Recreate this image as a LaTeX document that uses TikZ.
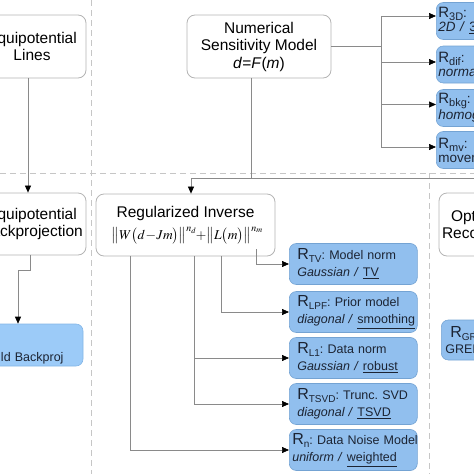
\documentclass[tikz,border=0pt]{standalone}
\usepackage{mathptmx}
\usepackage{fontspec}
\setmainfont{Liberation Sans}
\usetikzlibrary{arrows.meta}
\definecolor{lineg}{HTML}{8A8A8A}
\definecolor{boxg}{HTML}{B4B4B4}
\definecolor{dashg}{HTML}{C6C6C6}
\definecolor{rfill}{HTML}{91BFEE}
\definecolor{rdraw}{HTML}{74A3D3}
\definecolor{lfill}{HTML}{9CCBF8}
\definecolor{ldraw}{HTML}{84B6E6}
\definecolor{rtext}{HTML}{1C2433}
\frenchspacing
\newcommand\Rsub[1]{{\fontsize{16}{16}\selectfont R}\raisebox{-3pt}{\fontsize{10}{10}\selectfont #1}}
\newcommand\Rsm[1]{{\fontsize{15}{15}\selectfont R}\raisebox{-3pt}{\fontsize{11}{11}\selectfont #1}}
\newcommand\Rln[2]{\mbox{#1}\\\mbox{#2}}
\begin{document}
\begin{tikzpicture}[x=1pt,y=-1pt,
  pbox/.style={draw=boxg, line width=0.8pt, rounded corners=8pt, fill=white,
    align=center, font=\fontsize{15.5}{17.5}\selectfont, inner sep=0},
  rbox/.style={draw=rdraw, fill=rfill, rounded corners=7pt, line width=0.6pt,
    minimum width=128, minimum height=41, inner ysep=0, inner xsep=8pt,
    text width=112pt, align=left, font=\fontsize{12.5}{17}\selectfont, text=rtext},
  sbox/.style={rbox, minimum height=37, inner xsep=2pt, text width=124pt,
    font=\fontsize{13.5}{14}\selectfont},
  conn/.style={draw=lineg, line width=0.7pt},
  arr/.style={conn, -{Triangle[length=7pt,width=6pt,color=black]}},
  divider/.style={draw=dashg, line width=1pt, dash pattern=on 6pt off 4pt}]
\useasboundingbox (0,0) rectangle (474,474);
\clip (0,0) rectangle (474,474);
% dividers
\draw[divider] (91,0) -- (91,474);
\draw[divider] (0,173) -- (474,173);
\draw[divider] (429,173) -- (429,474);
% plain boxes
\node[pbox, minimum width=108, minimum height=63] (eqlines) at (32,46.5) {Equipotential\\Lines};
\node[pbox, minimum width=144, minimum height=63] (numsens) at (259,46.5)
  {Numerical\\Sensitivity Model\\\textit{d}=\textit{F}(\textit{m})};
\node[pbox, minimum width=108, minimum height=62] (eqback) at (32,224) {Equipotential\\Backprojection};
\node[pbox, minimum width=179, minimum height=62] (reginv) at (185.5,225)
  {Regularized Inverse\\[4pt]\hspace*{4pt}{\fontsize{13.5}{13.5}\selectfont
   $\bigl\|W\bigl(d\!-\!Jm\bigr)\bigr\|^{n_d}\!\!+\!\bigl\|L\bigl(m\bigr)\bigr\|^{n_m}$}};
\node[pbox, minimum width=128, minimum height=63, text width=122pt, align=left,
  inner xsep=3pt] (opt) at (503,224.5) {\hspace*{9pt}Optimal\\Reconstruction};
% left blue box
\node[rbox, fill=lfill, draw=ldraw, minimum height=42, text width=36pt, inner xsep=0pt,
  text height=35pt, text depth=2pt] (lbp) at (19,345) {\mbox{ld Backproj}};
% top right boxes
\node[sbox, anchor=west] (r3d) at (436,21) {\Rln{\Rsm{3D}:}{\textit{2D /} \underline{3D}}};
\node[sbox, anchor=west] (rdif) at (436,64.5) {\Rln{\Rsm{dif}:}{\textit{normal}}};
\node[sbox, anchor=west] (rbkg) at (436,108) {\Rln{\Rsm{bkg}:}{\textit{homogeneous}}};
\node[sbox, anchor=west] (rmv) at (436,150) {\Rln{\Rsm{mv}:}{movement}};
% R boxes middle
\node[rbox, anchor=west] (rtv) at (289,264) {\Rln{\Rsub{TV}: Model norm}{\textit{Gaussian /} \underline{TV}}};
\node[rbox, anchor=west] (rlpf) at (289,312) {\Rln{\Rsub{LPF}: Prior model}{\textit{diagonal /} \underline{smoothing}}};
\node[rbox, anchor=west] (rl1) at (289,358) {\Rln{\Rsub{L1}: Data norm}{\textit{Gaussian /} \underline{robust}}};
\node[rbox, anchor=west] (rtsvd) at (289,404) {\Rln{\Rsub{TSVD}: Trunc. SVD}{\textit{diagonal /} \underline{TSVD}}};
\node[rbox, anchor=west] (rn) at (289,450)
  {\hspace*{-5pt}\mbox{\Rsub{n}: Data Noise Model}\\\hspace*{-5pt}\mbox{\textit{uniform /} \underline{weighted}}};
% right GREIT box
\node[rbox, anchor=west, minimum height=40, inner xsep=4pt, text width=120pt,
  font=\fontsize{12.5}{16}\selectfont] (rgr) at (441,340) {\hspace*{5pt}\mbox{\Rsub{GREIT}:}\\GREIT};
% connectors left
\draw[arr] ([xshift=-4]eqlines.south) -- ([xshift=-4]eqback.north);
\draw[arr] ([xshift=-2]eqback.south) -- ++(0,15) -| ([xshift=-1]lbp.north);
% bus
\coordinate (busL) at (191,178);
\coordinate (busR) at (474,178);
\draw[conn] (busL) -- (busR);
\draw[conn] ([xshift=-8]numsens.south) -- ([xshift=-8]numsens.south |- busL);
\draw[arr] (busL) -- (busL |- reginv.north);
% right fan
\coordinate (jn) at (381,46.5);
\coordinate (jtop) at (381,16);
\coordinate (jbot) at (381,147);
\draw[conn] (numsens.east) -- (jn);
\draw[conn] (jtop) -- (jbot);
\coordinate (a1) at (381,16);
\coordinate (a2) at (381,62);
\coordinate (a3) at (381,104.5);
\coordinate (a4) at (381,147);
\draw[arr] (a1) -- (a1 -| r3d.west);
\draw[arr] (a2) -- (a2 -| rdif.west);
\draw[arr] (a3) -- (a3 -| rbkg.west);
\draw[arr] (a4) -- (a4 -| rmv.west);
% formula connectors
\coordinate (fW) at (130,256);
\coordinate (fnd) at (194,256);
\coordinate (fL) at (221,256);
\coordinate (fnm) at (256,249);
\draw[arr] (fW) |- (rn.west);
\draw[arr] (fnd) |- (rtsvd.west);
\draw[arr] (fnd |- rl1.west) -- (rl1.west);
\draw[arr] (fL) |- (rlpf.west);
\draw[arr] (fnm) |- (rtv.west);
\end{tikzpicture}
\end{document}
